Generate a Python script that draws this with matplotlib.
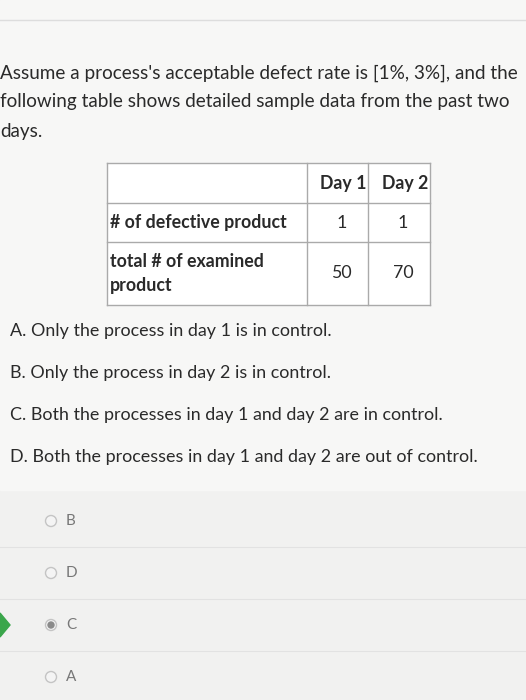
import matplotlib
matplotlib.use("Agg")
import matplotlib.pyplot as plt
from matplotlib.patches import Rectangle, Circle, Polygon

question = ["Assume a process's acceptable defect rate is [1%, 3%], and the",
            "following table shows detailed sample data from the past two",
            "days."]
col_labels = ["Day 1", "Day 2"]
row_labels = ["# of defective product", "total # of examined\nproduct"]
values = [[1, 1], [50, 70]]
options = ["A. Only the process in day 1 is in control.",
           "B. Only the process in day 2 is in control.",
           "C. Both the processes in day 1 and day 2 are in control.",
           "D. Both the processes in day 1 and day 2 are out of control."]
choices = ["B", "D", "C", "A"]
selected = "C"

fig = plt.figure(figsize=(5.26, 7.0), dpi=100)
fig.patch.set_facecolor("#f1f1f0")
ax = fig.add_axes([0, 0, 1, 1])
ax.set_xlim(0, 526); ax.set_ylim(700, 0); ax.axis("off")
ax.add_patch(Rectangle((0, 0), 526, 490, color="#f7f7f6", zorder=0))
ax.plot([0, 526], [20, 20], color="#dddddd", lw=1)

fam = ["Lato", "DejaVu Sans"]
tc = "#2a2a2a"
for i, line in enumerate(question):
    ax.text(0, 73 + i * 29, line, fontsize=13.6, color=tc, va="center", family=fam)

# table
xs = [107, 307, 368, 430]
ys = [163, 203, 242, 305]
ax.add_patch(Rectangle((107, 163), 323, 142, facecolor="white", edgecolor="none", zorder=1))
for x in xs:
    ax.plot([x, x], [ys[0], ys[-1]], color="#aaaaaa", lw=1, zorder=2)
for y in ys:
    ax.plot([xs[0], xs[-1]], [y, y], color="#aaaaaa", lw=1, zorder=2)
for j, c in enumerate(col_labels):
    ax.text((xs[j+1] + xs[j+2]) / 2 + 6, 184, c, fontsize=12.8, color=tc, ha="center", va="center", family=fam, weight="bold", zorder=3)
for i, r in enumerate(row_labels):
    ym = (ys[i+1] + ys[i+2]) / 2
    ax.text(110, ym, r, fontsize=12.8, color=tc, va="center", family=fam, weight="bold", linespacing=1.5, zorder=3)
    for j, v in enumerate(values[i]):
        ax.text((xs[j+1] + xs[j+2]) / 2 + 4, ym, str(v), fontsize=12.8, color=tc, ha="center", va="center", family=fam, zorder=3)

for i, o in enumerate(options):
    ax.text(10, 331 + i * 42, o, fontsize=12.9, color=tc, va="center", family=fam)

for i, c in enumerate(choices):
    y = 521 + i * 52
    if i > 0:
        ax.plot([0, 526], [y - 26, y - 26], color="#e2e2e2", lw=0.8)
    ax.add_patch(Circle((51, y), 5.5, facecolor="#f4f4f4", edgecolor="#c4c4c4", lw=1, zorder=3))
    if c == selected:
        ax.add_patch(Circle((51, y), 3, color="#8a8a8a", zorder=4))
    ax.text(66, y, c, fontsize=11, color="#777777", va="center", family=fam)
    if c == selected:
        ax.add_patch(Polygon([[0, y - 12], [10, y], [0, y + 12]], color="#3aa64b", zorder=4))

fig.savefig("out.png", dpi=100, facecolor=fig.get_facecolor())
